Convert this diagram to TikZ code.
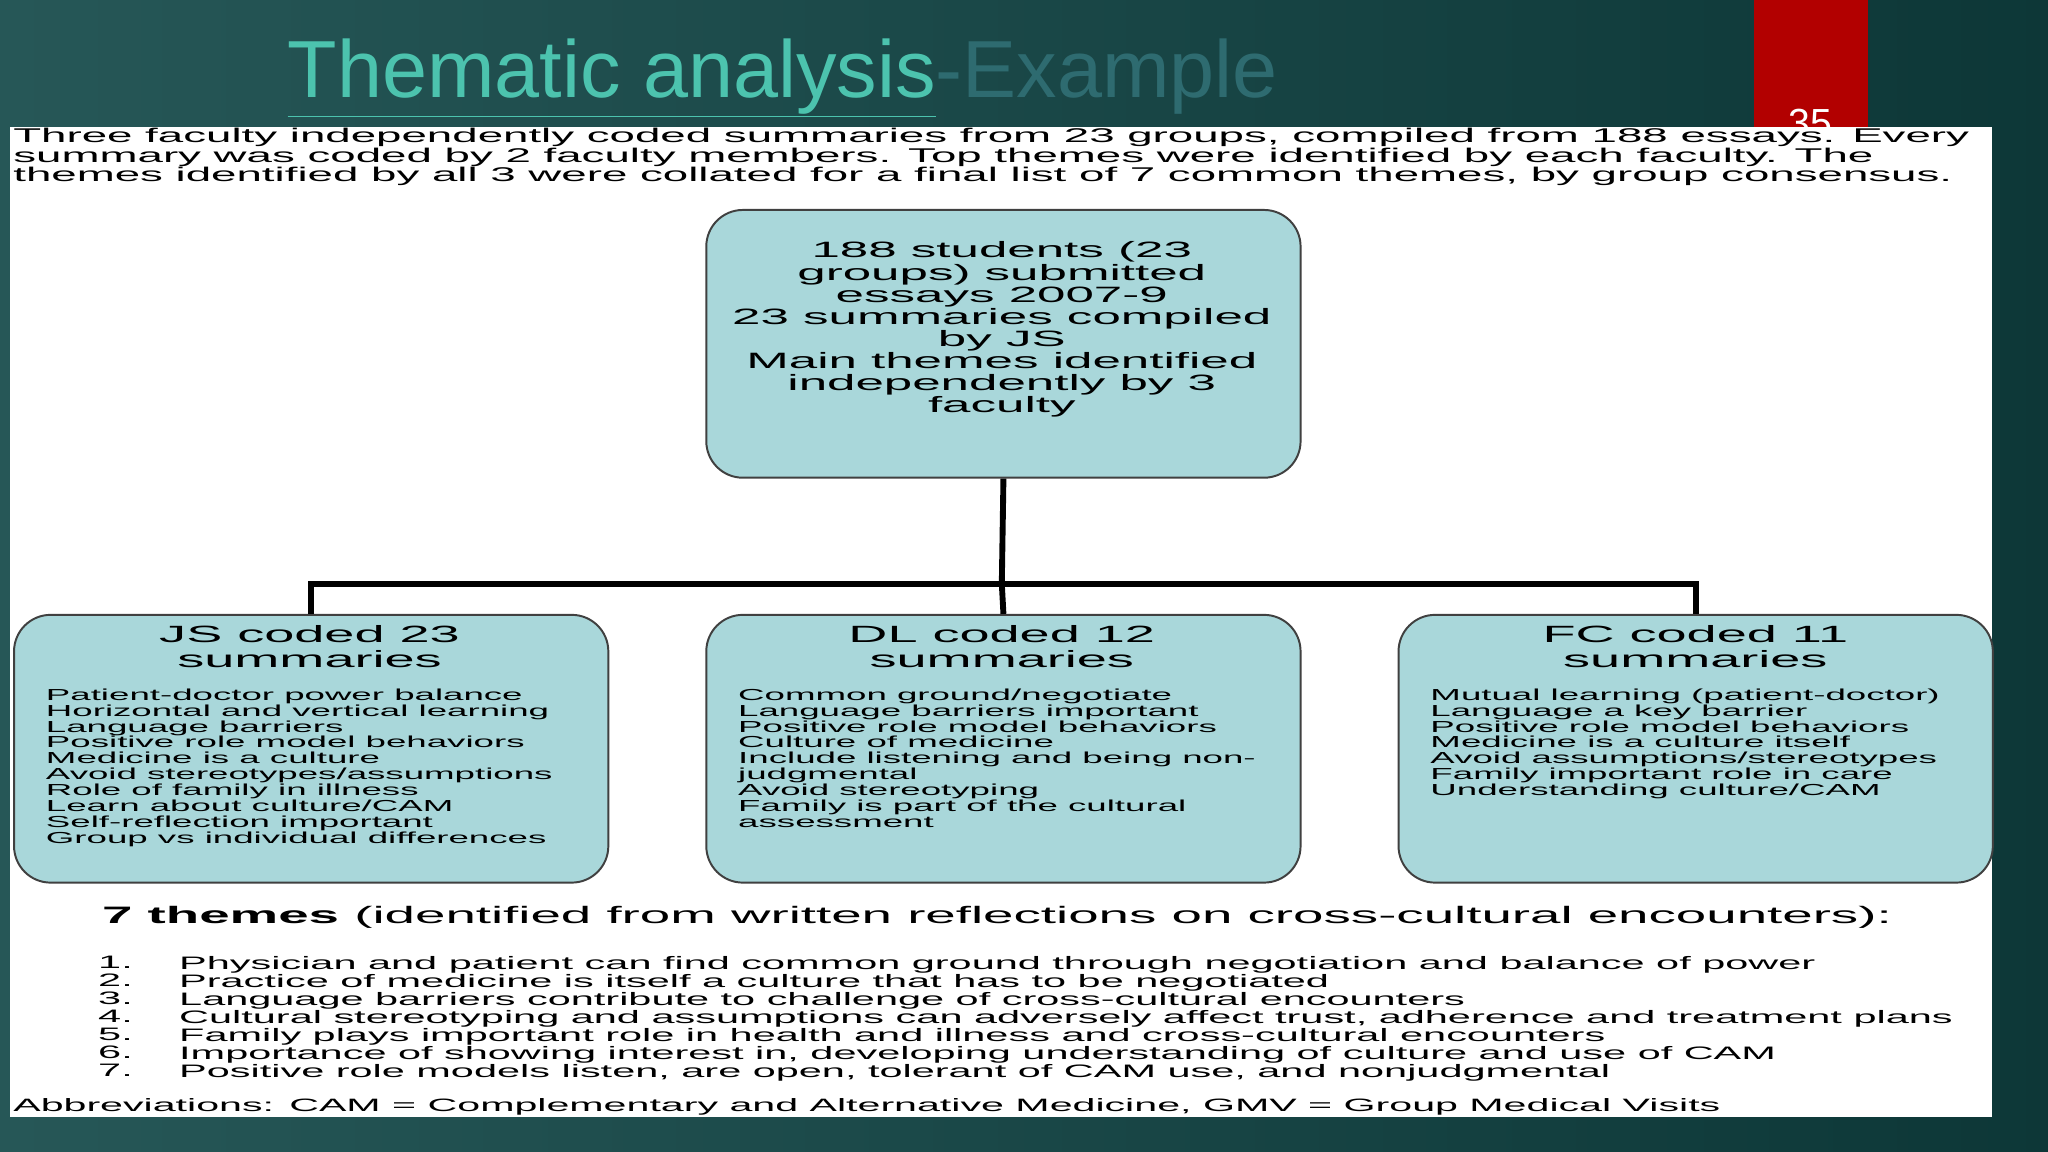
\documentclass[tikz,border=0pt]{standalone}
\usepackage{fontspec}
\setmainfont{Liberation Sans}
\newfontfamily\widefont{Liberation Sans}[FakeStretch=2.3]
\usetikzlibrary{calc}
\definecolor{boxfill}{HTML}{A9D7DA}
\definecolor{ttl}{HTML}{4CC3AE}
\definecolor{ttldark}{HTML}{2E6B70}
\newcommand{\wf}[2]{\widefont\fontsize{#1}{#2}\selectfont\lineskiplimit=-20pt\lineskip=0pt}
\tikzset{
 fbox/.style={draw=black!75,line width=1.5pt,fill=boxfill,rounded corners=28pt,minimum width=455pt,minimum height=205pt,anchor=north west},
 conn/.style={line width=4.5pt},
 ptext/.style={font=\wf{15.2}{15},anchor=north west,align=left,inner sep=0pt},
 btitle/.style={font=\wf{18}{18.5},align=center,inner sep=0pt,anchor=north},
 blist/.style={font=\wf{12.2}{12.2},align=left,inner sep=0pt,anchor=north west},
 thm/.style={font=\wf{13.8}{13.8},align=left,inner sep=0pt,anchor=north west}
}
\begin{document}
\begin{tikzpicture}[x=1pt,y=-1pt]
\useasboundingbox (0,0) rectangle (1568,882);
\shade[left color=teal!45!black!85,right color=teal!35!black!95] (0,0) rectangle (1568,882);
\fill[red!70!black] (1343,0) rectangle (1430,97);
\node[font=\fontsize{30}{30}\selectfont,text=white,anchor=north] (pg) at (1386,80) {35};
\node[font=\fontsize{62}{62}\selectfont,anchor=base west,inner sep=0pt] (title) at (220,75) {\textcolor{ttl}{\underline{Thematic analysis}}\textcolor{ttldark}{-Example}};
\fill[white] (8,97) rectangle (1525,855);
\node[ptext] (intro) at (10,98) {Three faculty independently coded summaries from 23 groups, compiled from 188 essays. Every\\summary was coded by 2 faculty members. Top themes were identified by each faculty. The\\themes identified by all 3 were collated for a final list of 7 common themes, by group consensus.};
\node[fbox] (top) at (540,160) {};
\node[font=\wf{17}{16.9},align=center,anchor=north,inner sep=0pt] (toptxt) at (767,185) {188 students (23\\groups) submitted\\essays 2007-9\\23 summaries compiled\\by JS\\Main themes identified\\independently by 3\\faculty};
\node[fbox] (js) at (10,470) {};
\node[fbox] (dl) at (540,470) {};
\node[fbox] (fc) at (1070,470) {};
\coordinate (split) at (767,447);
\draw[conn] (top.south) -- (split);
\draw[conn] (split) -| (js.north);
\draw[conn] (split) -| (fc.north);
\draw[conn] (split) -- (dl.north);
\node[btitle] (jst) at (237,479) {JS coded 23\\summaries};
\node[btitle] (dlt) at (767,479) {DL coded 12\\summaries};
\node[btitle] (fct) at (1298,479) {FC coded 11\\summaries};
\node[blist] (jsl) at (35,527) {Patient-doctor power balance\\Horizontal and vertical learning\\Language barriers\\Positive role model behaviors\\Medicine is a culture\\Avoid stereotypes/assumptions\\Role of family in illness\\Learn about culture/CAM\\Self-reflection important\\Group vs individual differences};
\node[blist] (dll) at (565,527) {Common ground/negotiate\\Language barriers important\\Positive role model behaviors\\Culture of medicine\\Include listening and being non-\\judgmental\\Avoid stereotyping\\Family is part of the cultural\\assessment};
\node[blist] (fcl) at (1095,527) {Mutual learning (patient-doctor)\\Language a key barrier\\Positive role model behaviors\\Medicine is a culture itself\\Avoid assumptions/stereotypes\\Family important role in care\\Understanding culture/CAM};
\node[font=\wf{18.2}{18},anchor=north west,inner sep=0pt] (th) at (78,694) {\textbf{7 themes} (identified from written reflections on cross-cultural encounters):};
\node[thm] (nums) at (75,732) {1.\\2.\\3.\\4.\\5.\\6.\\7.};
\node[thm] (items) at (137,732) {Physician and patient can find common ground through negotiation and balance of power\\Practice of medicine is itself a culture that has to be negotiated\\Language barriers contribute to challenge of cross-cultural encounters\\Cultural stereotyping and assumptions can adversely affect trust, adherence and treatment plans\\Family plays important role in health and illness and cross-cultural encounters\\Importance of showing interest in, developing understanding of culture and use of CAM\\Positive role models listen, are open, tolerant of CAM use, and nonjudgmental};
\node[font=\wf{13.7}{13.7},anchor=north west,inner sep=0pt] (abbr) at (10,841) {Abbreviations: CAM = Complementary and Alternative Medicine, GMV = Group Medical Visits};
\end{tikzpicture}
\end{document}
